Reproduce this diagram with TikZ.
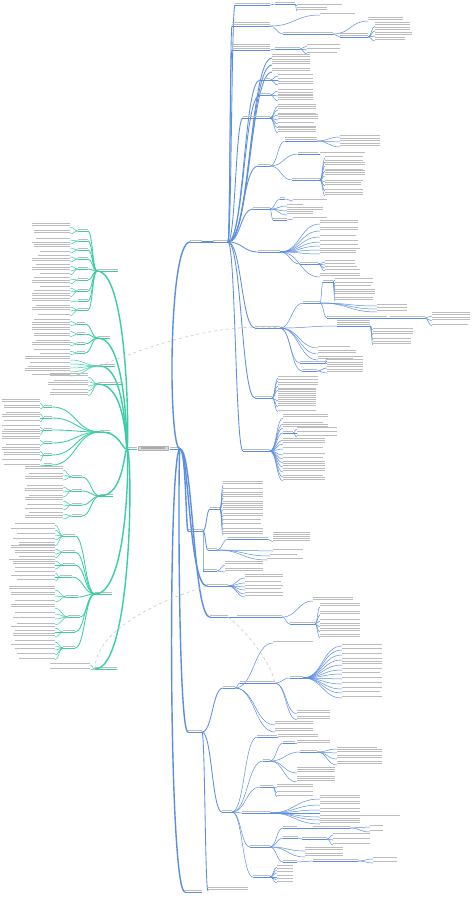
\documentclass[tikz,border=0pt]{standalone}
\usetikzlibrary{calc}
\definecolor{branchblue}{RGB}{92,142,224}
\definecolor{branchteal}{RGB}{58,206,166}
\definecolor{txtgray}{RGB}{188,188,188}
\definecolor{dashgray}{RGB}{200,200,200}
\newcommand\lnk[3][]{\draw[link,#1] let \p1=(#2), \p2=(#3) in (\p1) .. controls ({\x1+0.5*(\x2-\x1)},\y1) and ({\x1+0.5*(\x2-\x1)},\y2) .. (\p2);}
\newcommand\lnkv[4][]{\draw[link,#1] let \p1=(#3), \p2=(#4) in (\p1) .. controls ({#2bp},\y1) and ({#2bp},\y2) .. (\p2);}
\newcommand\txt[4]{\foreach \tk in {1,...,#4}{\fill[txtgray] ({#1},{#2-1.8-(\tk-1)*2.1}) rectangle ++({#3},0.9);}}
\newcommand\hub[5]{\coordinate (#1) at (#2,#3); \coordinate (#1e) at ({#2+#4},#3); \draw[uline] (#1) -- (#1e); \txt{#2}{#3}{#4}{#5}}
\newcommand\fan[3][]{\foreach \px/\py/\pw/\pn [count=\pc] in {#3}{\coordinate (#2-\pc) at (\px,\py); \lnk[#1]{#2e}{#2-\pc} \txt{\px}{\py}{\pw}{\pn}}}
\newcommand\sub[6]{\hub{#1}{#3}{#4}{#5}{1}\lnk[l2]{#2}{#1}\fan{#1}{#6}}
\begin{document}
\begin{tikzpicture}[x=1bp,y=-1bp,link/.style={line width=0.5bp,line cap=round},l1/.style={line width=1.4bp},l2/.style={line width=0.85bp},uline/.style={line width=0.5bp},dashln/.style={draw=dashgray,dashed,line width=0.6bp},centbox/.style={draw=gray!60,fill=gray!30,minimum width=30bp,minimum height=4bp,inner sep=0pt}]
\fill[white] (0,0) rectangle (474,898);
\useasboundingbox (0,0) rectangle (474,898);
\node[centbox] (center) at (153,448) {};
\fill[gray!65] (141,447.4) rectangle (165,448.6);
% left side
\begin{scope}[branchteal]
\hub{RL}{137}{449}{-10}{1}
\hub{A}{118}{271}{-21}{1}\lnkv[l1]{129}{RLe}{Ae}
\sub{a1}{Ae}{88}{231}{-10}{70/227/-38/2,70/234/-36/2}
\sub{a2}{Ae}{88}{241}{-10}{70/240/-34/1,70/244/-38/1}
\sub{a3}{Ae}{88}{250}{-10}{70/248/-36/2,70/253/-30/1}
\sub{a4}{Ae}{88}{259}{-10}{70/257/-32/1,70/262/-38/2}
\sub{a5}{Ae}{88}{269}{-10}{70/266/-34/1,70/271/-38/2,70/275/-30/1}
\sub{a6}{Ae}{88}{280}{-10}{70/279/-36/1,70/284/-38/2}
\sub{a7}{Ae}{88}{291}{-10}{70/288/-30/1,70/292/-36/1,70/297/-38/2}
\sub{a8}{Ae}{88}{301}{-10}{70/302/-38/2}
\sub{a9}{Ae}{88}{310}{-10}{70/307/-34/1,70/311/-38/2,70/316/-32/1}
\hub{B}{110}{338}{-12}{1}\lnkv[l1]{127}{RLe}{Be}
\sub{b1}{Be}{85}{324}{-8}{70/321/-36/1,70/326/-38/2}
\sub{b2}{Be}{85}{334}{-8}{70/331/-38/2,70/337/-36/2}
\sub{b3}{Be}{85}{344}{-8}{70/342/-34/1,70/346/-38/2}
\sub{b4}{Be}{85}{353}{-8}{70/351/-36/1,70/355/-30/1}
\hub{C}{115}{366}{-15}{1}\lnkv[l1]{126}{RLe}{Ce}
\fan{C}{70/360/-45/2,70/364/-40/1,70/368/-42/1,70/372/-45/2,70/376/-38/1}
\hub{D}{123}{384}{-25}{1}\lnkv[l1]{126}{RLe}{De}
\fan{D}{88/377/-38/2,88/382/-34/1,88/386/-40/2,88/391/-36/1,88/396/-38/2}
\hub{E}{110}{432}{-10}{1}\lnkv[l1]{121}{RLe}{Ee}
\sub{e1}{Ee}{52}{407}{-8}{40/403/-38/2,40/409/-36/2}
\sub{e2}{Ee}{52}{418}{-8}{40/414/-34/1,40/418/-38/2,40/422/-36/1}
\sub{e3}{Ee}{52}{430}{-8}{40/427/-38/1,40/431/-36/1,40/435/-38/2}
\sub{e4}{Ee}{52}{443}{-8}{40/440/-38/2,40/446/-34/1}
\sub{e5}{Ee}{52}{455}{-8}{40/451/-38/2,40/456/-36/2,40/461/-38/1}
\sub{e6}{Ee}{52}{465}{-8}{40/466/-36/1}
\hub{F}{113}{496}{-13}{1}\lnkv[l1]{124}{RLe}{Fe}
\sub{f1}{Fe}{82}{477}{-10}{63/470/-38/2,63/475/-34/1,63/480/-38/2}
\sub{f2}{Fe}{82}{491}{-10}{63/487/-36/1,63/492/-38/2,63/497/-34/1}
\sub{f3}{Fe}{82}{505}{-10}{63/501/-38/2,63/506/-36/1,63/510/-38/1}
\sub{f4}{Fe}{82}{516}{-10}{63/514/-34/1,63/519/-38/2}
\hub{G}{112}{594}{-17}{1}\lnkv[l1]{129}{RLe}{Ge}
\sub{g1}{Ge}{75}{536}{-12}{55/525/-40/1,55/530/-44/1,55/535/-38/1,55/540/-42/1,55/546/-36/2}
\sub{g2}{Ge}{75}{552}{-12}{55/549/-44/2,55/554/-40/2,55/558/-36/1}
\sub{g3}{Ge}{75}{565}{-12}{55/561/-46/1,55/565/-42/2,55/569/-40/1}
\sub{g4}{Ge}{72}{577}{-12}{55/573/-40/1,55/577/-44/1,55/581/-38/1}
\sub{g5}{Ge}{78}{597}{-12}{55/590/-46/2,55/596/-44/2,55/602/-40/1}
\sub{g6}{Ge}{80}{617}{-12}{55/608/-44/2,55/614/-40/1,55/619/-42/1,55/625/-38/1}
\sub{g7}{Ge}{75}{632}{-12}{55/628/-44/1,55/632/-40/1,55/637/-42/2}
\sub{g8}{Ge}{75}{648}{-12}{55/642/-40/1,55/646/-44/1,55/650/-40/1,55/655/-38/1,55/660/-36/1}
\hub{H}{117}{669}{-22}{1}\lnkv[l1]{133}{RLe}{He}
\fan{H}{90/665/-40/1,90/670/-40/1}
\end{scope}
% right side
\begin{scope}[branchblue]
\hub{RR}{170}{449}{10}{1}
\hub{A2}{190}{242}{12}{1}\lnkv[l1]{168}{RRe}{A2}
\hub{Bb}{213}{242}{15}{1}\lnk[l1]{A2e}{Bb}
\hub{c1}{235}{5}{35}{1}\lnk[l2]{Bbe}{c1}
\hub{c1a}{275}{4}{20}{1}\lnk{c1e}{c1a}\fan{c1a}{297/6/45/1,297/11/30/2}
\hub{c2}{232}{26}{38}{2}\lnk[l2]{Bbe}{c2}\fan{c2}{320/15/35/1}
\hub{c2b}{283}{34}{50}{1}\lnk{c2e}{c2b}\fan{c2b}{368/21/35/2}
\hub{c2d}{340}{37}{28}{2}\lnk{c2be}{c2d}\fan{c2d}{375/26/35/2,375/31/35/2,375/36/37/2,375/41/30/2}
\hub{c3}{232}{50}{38}{3}\lnk[l2]{Bbe}{c3}
\hub{c3f}{275}{49}{25}{1}\lnk{c3e}{c3f}\fan{c3f}{307/46/33/1,307/50/33/1,307/54/30/1}
\fan[l2]{Bb}{272/58/38/2,272/65/38/3,272/72/38/2}
\hub{c7}{260}{80}{10}{1}\lnk[l2]{Bbe}{c7}\fan{c7}{278/76/35/1,278/80/35/1,278/85/35/2}
\hub{c8}{260}{95}{10}{1}\lnk[l2]{Bbe}{c8}\fan{c8}{278/91/35/1,278/96/35/2,278/101/35/3}
\hub{c9}{243}{118}{27}{1}\lnk[l2]{Bbe}{c9}\fan{c9}{278/106/38/1,278/110/38/2,278/115/38/1,278/120/40/3,278/124/36/1,278/128/38/1,278/133/38/3}
\hub{c10}{258}{166}{12}{1}\lnk[l2]{Bbe}{c10}
\hub{c10j}{285}{141}{32}{2}\lnk{c10e}{c10j}\fan{c10j}{340/137/40/1,340/142/40/2,340/147/40/2}
\hub{c10k}{298}{154}{20}{1}\lnk{c10e}{c10k}\fan{c10k}{320/154/45/1}
\hub{c10i}{292}{180}{28}{1}\lnk{c10e}{c10i}\fan{c10i}{325/158/38/1,325/162/38/1,325/166/40/2,325/171/38/1,325/176/40/3,325/182/38/1,325/186/36/2,325/191/38/1,325/196/38/2}
\hub{c11}{253}{209}{17}{1}\lnk[l2]{Bbe}{c11}
\hub{c11a}{280}{199}{5}{1}\lnk{c11e}{c11a}\fan{c11a}{293/201/34/1}
\fan{c11}{287/206/16/1,287/211/36/2,287/215/26/2}
\hub{c11b}{273}{220}{14}{1}\lnk{c11e}{c11b}\fan{c11b}{293/219/34/1}
\hub{R2}{258}{252}{22}{1}\lnk[l2]{Bbe}{R2}
\fan{R2}{320/224/38/2,320/231/38/2,320/237/36/1,320/242/38/1,320/246/38/1,320/250/40/1,320/254/36/2,320/277/40/2}
\hub{R2s}{300}{264}{18}{1}\lnk{R2e}{R2s}\fan{R2s}{325/262/30/1,325/265/30/1,325/268/32/1,325/271/35/1}
\hub{R3}{255}{328}{25}{1}\lnk[l2]{Bbe}{R3}
\hub{R3a}{303}{303}{17}{1}\lnk{R3e}{R3a}\fan{R3a}{377/306/30/1,377/309/30/1,377/312/30/1}
\hub{R3b}{323}{282}{10}{1}\lnk{R3ae}{R3b}\fan{R3b}{335/280/38/1,335/284/38/1,335/287/36/1,335/291/38/1,335/295/40/3,335/301/38/2}
\hub{R3c}{327}{318}{60}{1}\lnk{R3ae}{R3c}
\hub{R3d}{390}{318}{35}{1}\lnk{R3ce}{R3d}\fan{R3d}{432/316/38/2,432/321/38/2,432/326/36/1}
\hub{R3h}{337}{326}{33}{3}\lnk{R3e}{R3h}\fan{R3h}{373/330/40/1,373/335/40/2,373/340/38/1,373/345/38/2}
\fan{R3}{318/348/32/1,318/354/38/2,318/360/35/2}
\hub{R3f}{300}{363}{25}{1}\lnk{R3e}{R3f}\fan{R3f}{327/358/36/1,327/361/36/1,327/364/36/1}
\hub{R3g}{302}{371}{15}{1}\lnk{R3e}{R3g}\fan{R3g}{327/368/36/2,327/373/36/2}
\hub{R4}{255}{398}{17}{1}\lnk[l2]{Bbe}{R4}
\fan{R4}{278/378/40/1,278/381/40/1,278/386/40/2,278/390/38/1,278/401/38/6,278/407/38/3,278/412/38/1}
\hub{R5}{243}{451}{27}{1}\lnk[l2]{Bbe}{R5}
\fan{R5}{283/418/45/2,283/424/40/1,283/428/45/2,283/440/42/1,283/444/42/2,283/449/40/1,283/455/42/1,283/459/40/1,283/463/42/1,283/467/42/2,283/472/42/2,283/477/40/1,283/481/42/2}
\hub{R5s}{283}{433}{10}{1}\lnk{R5e}{R5s}\fan{R5s}{297/429/40/1,297/433/40/1,297/437/40/1}
\hub{Q1}{188}{531}{15}{1}\lnkv[l1]{186}{RRe}{Q1}
\hub{Q1a}{210}{509}{10}{1}\lnk[l2]{Q1e}{Q1a}
\fan{Q1a}{223/485/40/2,223/490/40/1,223/494/40/1,223/498/40/2,223/503/40/1,223/511/40/5,223/517/40/2,223/521/38/1,223/525/38/1,223/530/40/1,223/535/40/2}
\hub{Q1b}{208}{550}{9}{1}\lnk[l2]{Q1e}{Q1b}
\hub{Q1m}{228}{539}{40}{1}\lnk{Q1be}{Q1m}\fan{Q1m}{273/542/37/5}
\fan{Q1b}{273/551/30/1,270/556/27/1,267/560/36/1}
\hub{Q1c}{203}{571}{14}{1}\lnk[l2]{Q1e}{Q1c}\fan{Q1c}{225/565/38/2,225/572/38/2}
\hub{Q2}{207}{586}{21}{1}\lnkv[l1]{189}{RRe}{Q2}
\fan{Q2}{245/578/38/2,245/583/36/1,245/587/38/1,245/590/36/1,245/594/38/1,245/597/38/1}
\hub{Q3}{210}{617}{18}{1}\lnkv[l1]{193}{RRe}{Q3}
\hub{Q3t}{237}{617}{45}{1}\lnk[l2]{Q3e}{Q3t}\fan{Q3t}{313/601/40/2}
\hub{Q3w}{290}{624}{25}{1}\lnk{Q3te}{Q3w}\fan{Q3w}{320/607/40/2,320/615/40/2,320/621/40/1,320/627/40/2,320/632/40/2,320/638/40/2}
\hub{N}{188}{732}{14}{1}\lnkv[l1]{178}{RRe}{N}
\hub{Cc}{223}{688}{12}{1}\lnk[l2]{Ne}{Cc}
\fan{Cc}{273/643/40/1,275/725/38/2,275/732/38/2}
\hub{Dd}{240}{683}{35}{1}\lnk{Cce}{Dd}\fan{Dd}{297/714/33/2,297/720/33/2}
\hub{Ee2}{290}{678}{13}{1}\lnk{Dde}{Ee2}
\fan{Ee2}{342/646/40/1,342/650/40/1,342/655/40/1,342/660/40/1,342/665/40/2,342/670/40/1,342/674/38/1,342/679/40/1,342/684/40/1,342/689/40/1,342/693/38/1,342/698/40/1}
\hub{P}{222}{812}{10}{1}\lnk[l2]{Ne}{P}
\fan[l2]{N}{208/891/40/2}
\hub{P1}{257}{737}{20}{1}\lnk{Pe}{P1}\fan{P1}{278/738/40/2}
\hub{P2}{263}{761}{7}{1}\lnk{Pe}{P2}
\hub{P2a}{283}{743}{12}{1}\lnk{P2e}{P2a}\fan{P2a}{297/744/33/2}
\hub{P2b}{300}{752}{17}{1}\lnk{P2e}{P2b}\fan{P2b}{337/749/40/1,337/753/45/2,337/759/45/2,337/765/45/2}
\fan{P2}{297/773/38/3,297/782/38/3}
\hub{P3}{260}{787}{13}{1}\lnk{Pe}{P3}\fan{P3}{277/788/36/2,277/793/36/1,277/797/36/1}
\hub{P4}{242}{813}{28}{1}\lnk{Pe}{P4}\fan{P4}{320/799/40/2,320/805/40/2,320/810/40/1,320/813/40/1,320/817/80/1,320/820/40/1,320/824/40/2}
\hub{P5}{250}{847}{20}{1}\lnk{Pe}{P5}
\hub{P5a}{283}{828}{14}{1}\lnk{P5e}{P5a}
\hub{P5b}{313}{828}{37}{1}\lnk{P5ae}{P5b}\fan{P5b}{370/827/13/1,370/832/13/1}
\hub{P5c}{283}{838}{15}{1}\lnk{P5e}{P5c}
\hub{P5d}{302}{839}{25}{1}\lnk{P5ce}{P5d}\fan{P5d}{333/835/37/1,333/840/37/1,333/845/37/1}
\fan{P5}{305/851/38/2,305/857/38/2}
\hub{P5g}{283}{862}{14}{1}\lnk{P5e}{P5g}
\hub{P5f}{313}{861}{45}{1}\lnk{P5ge}{P5f}\fan{P5f}{373/859/24/1,373/863/24/1}
\hub{P6}{253}{877}{17}{1}\lnk{Pe}{P6}\fan{P6}{277/867/16/1,277/870/16/1,277/873/16/1,277/877/16/1,277/880/16/1,277/883/16/1}
\hub{Zb}{185}{892}{17}{1}\lnkv[l1]{168}{RRe}{Zb}
\end{scope}
% cross links
\draw[dashln] (Ce) .. controls (150,345) and (220,322) .. (R3e);
\draw[dashln] (He) .. controls (95,630) and (160,600) .. (Q2);
\draw[dashln] (Q3e) .. controls (245,630) and (270,660) .. (Dde);
\end{tikzpicture}
\end{document}
